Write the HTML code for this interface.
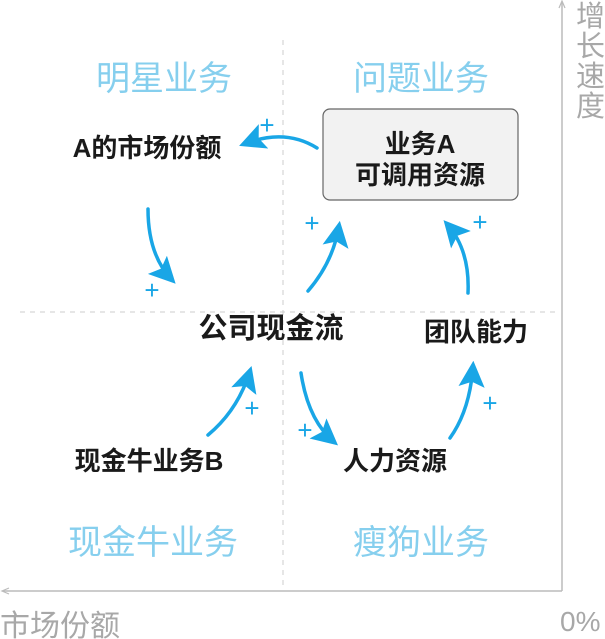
<!DOCTYPE html>
<html><head><meta charset="utf-8"><style>
html,body{margin:0;padding:0;background:#fff;}
svg{display:block;}
text{font-family:"Liberation Sans","Noto Sans CJK SC",sans-serif;}
.q{fill:#86cfee;font-size:34px;text-anchor:middle;}
.n{fill:#1a1a1a;font-size:26px;font-weight:bold;text-anchor:middle;}
.p{fill:#19a6e6;font-size:26px;text-anchor:middle;}
.ax{fill:#a8a8a8;font-size:30px;}
.ar{fill:none;stroke:#19a6e6;stroke-width:3.5;stroke-linecap:round;}
</style></head><body>
<svg width="605" height="639" viewBox="0 0 605 639" xmlns="http://www.w3.org/2000/svg">
<defs><marker id="h" viewBox="0 0 10 10" refX="8" refY="5" markerWidth="7.5" markerHeight="7.5" markerUnits="strokeWidth" orient="auto"><path d="M0,0 L10,5 L0,10 L2,5 z" fill="#19a6e6"/></marker></defs>
<line x1="562" y1="2" x2="562" y2="591" stroke="#bbb" stroke-width="1.5"/>
<path d="M559,8 L562,1 L565,8" fill="none" stroke="#bbb" stroke-width="1.2"/>
<line x1="3" y1="591" x2="562" y2="591" stroke="#bbb" stroke-width="1.5"/>
<path d="M9,588 L2,591 L9,594" fill="none" stroke="#bbb" stroke-width="1.2"/>
<line x1="283" y1="40" x2="283" y2="585" stroke="#ccc" stroke-width="1" stroke-dasharray="5,5"/>
<line x1="20" y1="312" x2="555" y2="312" stroke="#ccc" stroke-width="1" stroke-dasharray="5,5"/>
<text class="q" x="164" y="90">明星业务</text>
<text class="q" x="421" y="90">问题业务</text>
<text class="q" x="153" y="554">现金牛业务</text>
<text class="q" x="421" y="554">瘦狗业务</text>
<text class="ax" x="576" y="26" style="font-size:29px">增</text>
<text class="ax" x="576" y="56" style="font-size:29px">长</text>
<text class="ax" x="576" y="86" style="font-size:29px">速</text>
<text class="ax" x="576" y="116" style="font-size:29px">度</text>
<text class="ax" x="0" y="636">市场份额</text>
<text class="ax" x="560" y="631" style="font-size:28px">0%</text>
<rect x="323" y="109" width="195" height="91" rx="7" fill="#f2f2f2" stroke="#666" stroke-width="1.2"/>
<text class="n" x="420" y="153">业务A</text>
<text class="n" x="420" y="184">可调用资源</text>
<text class="n" x="147" y="157">A的市场份额</text>
<text class="n" x="271" y="338" style="font-size:29px">公司现金流</text>
<text class="n" x="476" y="341">团队能力</text>
<text class="n" x="149" y="470">现金牛业务B</text>
<text class="n" x="395" y="470">人力资源</text>
<path class="ar" marker-end="url(#h)" d="M317,148 Q285,128 244,144"/>
<path class="ar" marker-end="url(#h)" d="M148,209 Q148,255 172,280"/>
<path class="ar" marker-end="url(#h)" d="M308,291 Q333,262 339,226"/>
<path class="ar" marker-end="url(#h)" d="M468,293 Q470,250 447,224"/>
<path class="ar" marker-end="url(#h)" d="M208,435 Q238,410 250,371"/>
<path class="ar" marker-end="url(#h)" d="M301,373 Q308,420 334,442"/>
<path class="ar" marker-end="url(#h)" d="M450,438 Q470,410 473,366"/>
<text class="p" x="267" y="134">+</text>
<text class="p" x="152" y="299">+</text>
<text class="p" x="312" y="232">+</text>
<text class="p" x="480" y="231">+</text>
<text class="p" x="252" y="417">+</text>
<text class="p" x="305" y="439">+</text>
<text class="p" x="490" y="412">+</text>
</svg>
</body></html>
